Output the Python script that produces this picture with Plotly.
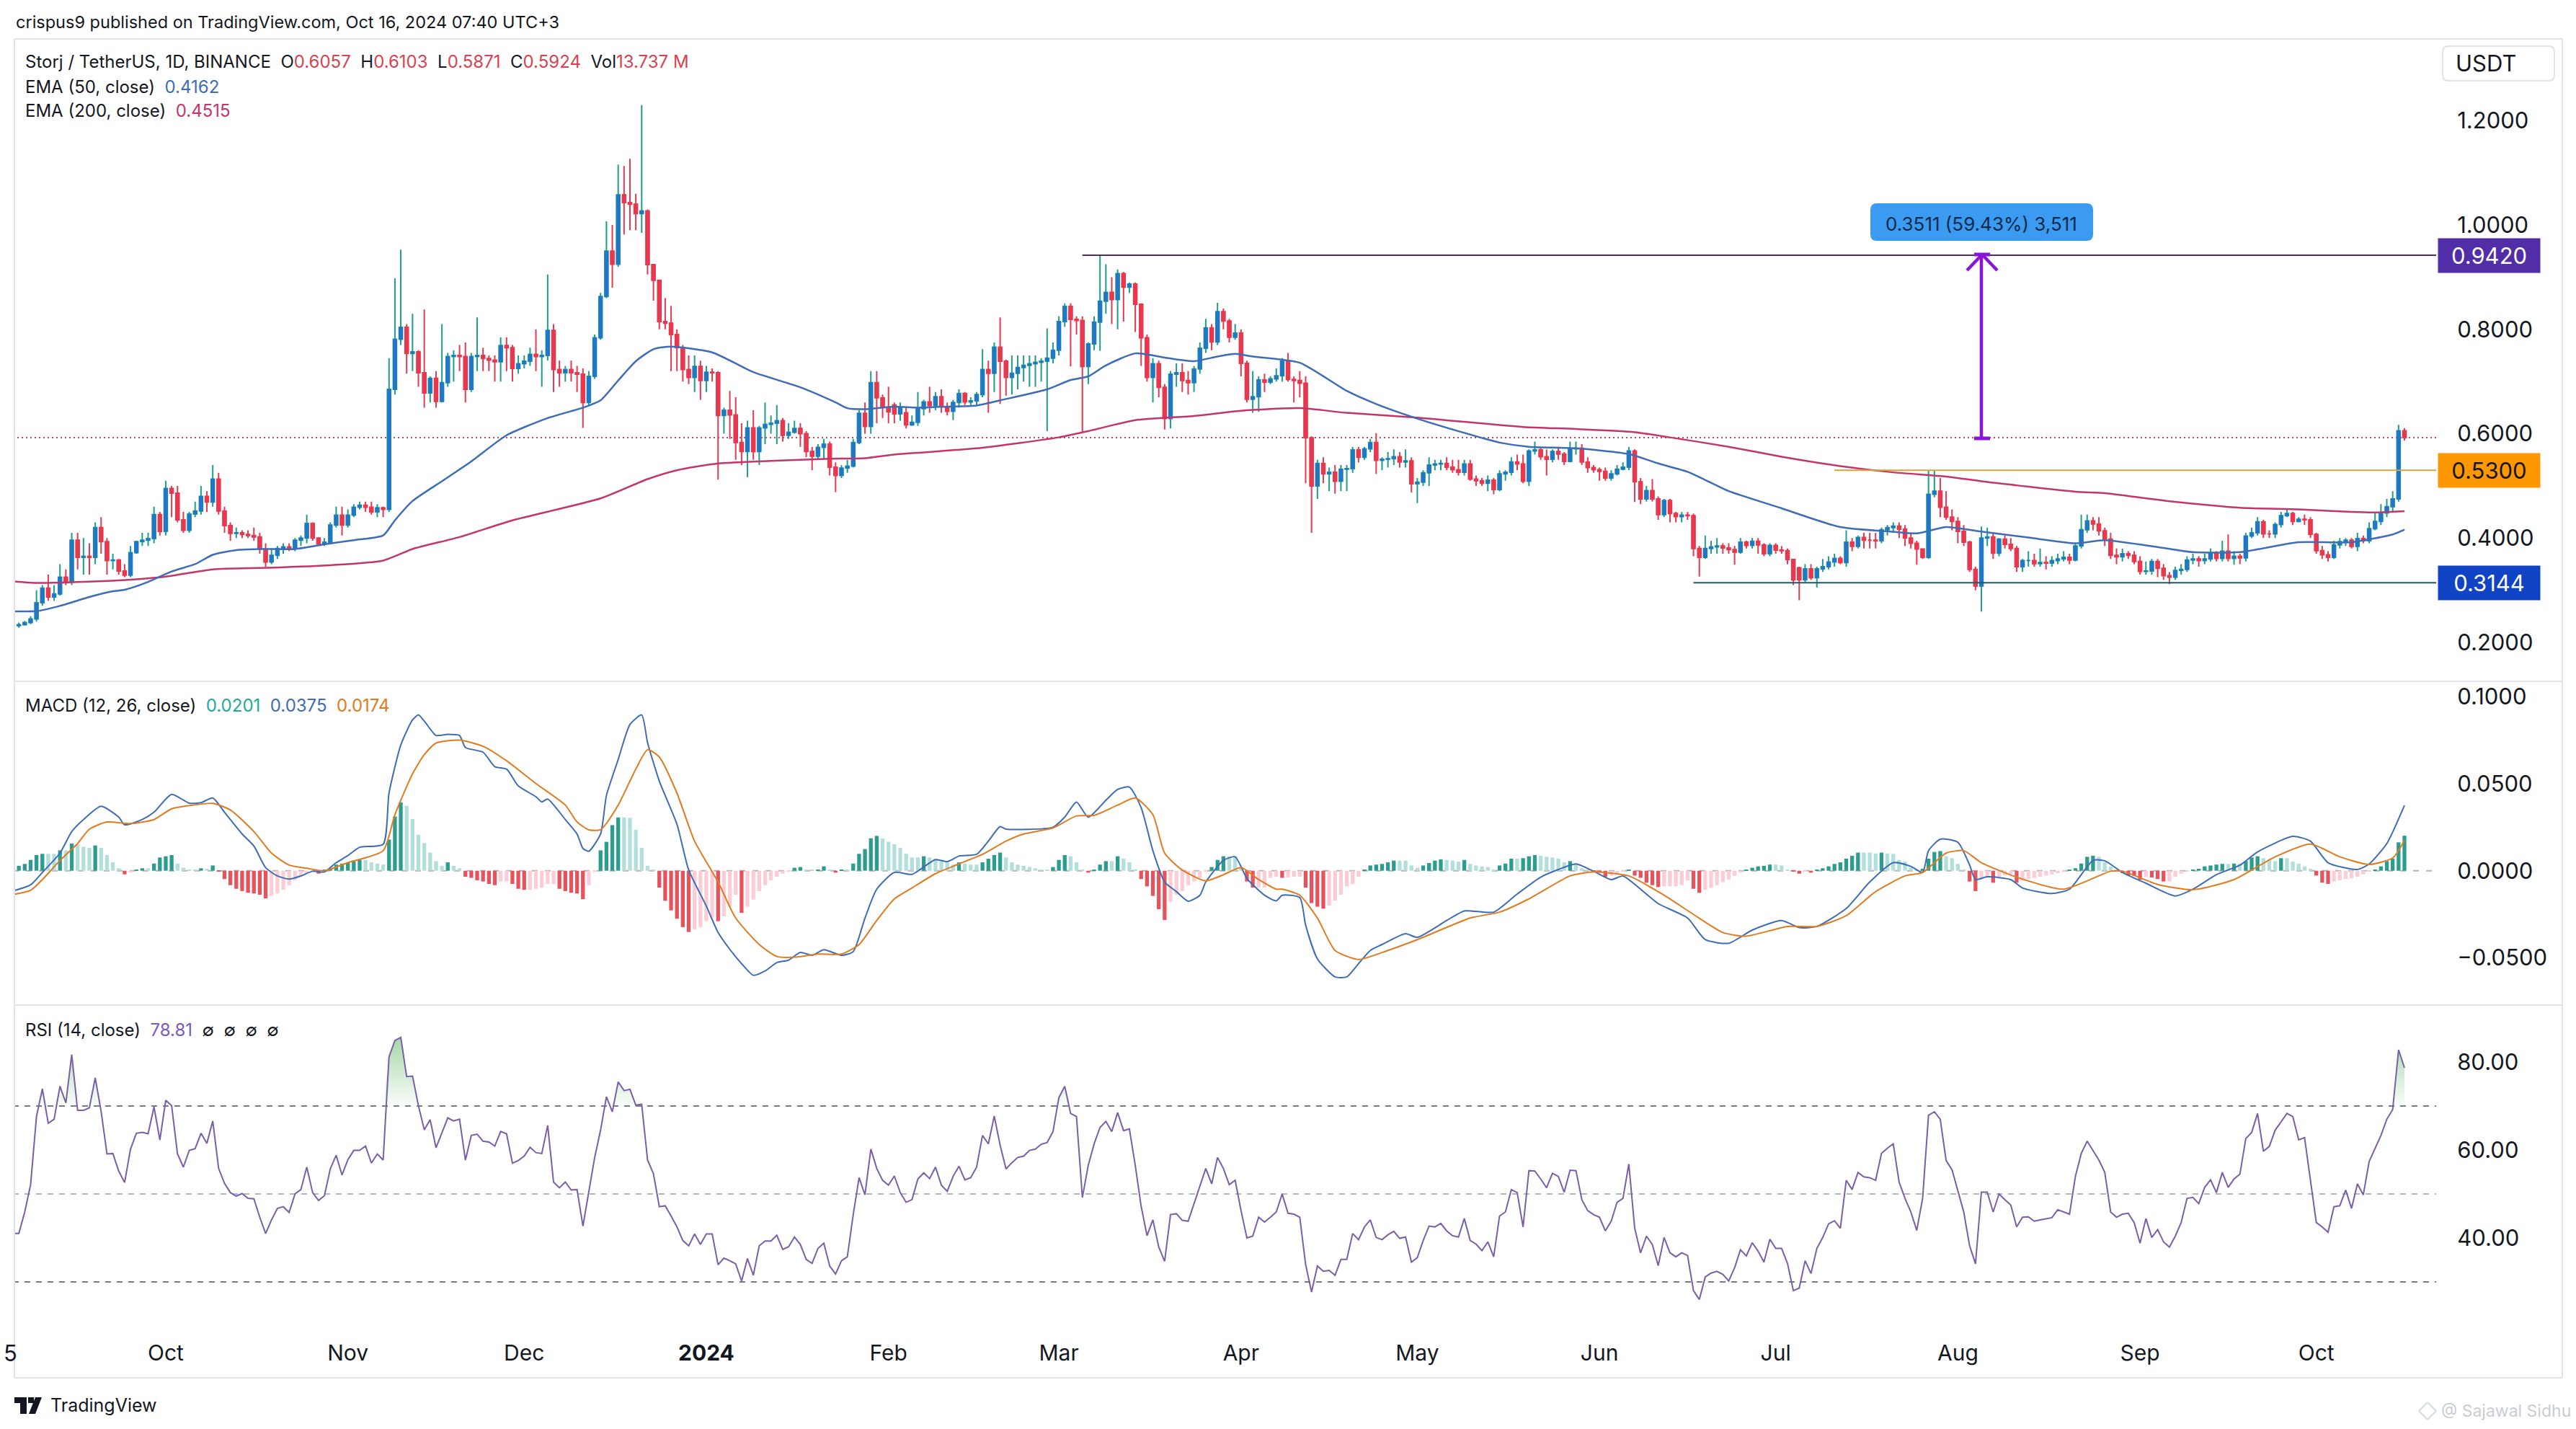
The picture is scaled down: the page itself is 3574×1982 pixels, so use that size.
"""Storj / TetherUS daily chart with EMA, MACD and RSI panes."""

import pandas as pd
import plotly.graph_objects as go

W, H = 3574, 1982
FONT = "Inter"

# candles, one per day from 5 Sep 2023 to 16 Oct 2024
opens = [
    .232,.232,.234,.238,.245,.276,.304,.287,.293,.325,
    .316,.396,.363,.365,.363,.420,.393,.357,.358,.337,
    .329,.372,.393,.396,.399,.445,.413,.495,.486,.435,
    .415,.446,.452,.480,.469,.513,.452,.424,.409,.410,
    .407,.405,.402,.379,.354,.367,.380,.383,.380,.396,
    .400,.428,.400,.389,.392,.425,.444,.425,.444,.459,
    .463,.459,.450,.458,.455,.685,.781,.804,.754,.757,
    .717,.678,.706,.662,.698,.748,.750,.748,.685,.748,
    .750,.744,.741,.738,.769,.765,.725,.734,.739,.752,
    .748,.750,.798,.723,.717,.723,.717,.714,.660,.710,
    .784,.863,.950,.925,1.058,1.043,1.040,1.022,1.027,.924,
    .894,.815,.812,.790,.765,.723,.708,.729,.702,.718,
    .717,.635,.645,.636,.583,.566,.611,.566,.611,.618,
    .620,.625,.597,.603,.610,.600,.566,.557,.574,.580,
    .536,.520,.534,.538,.583,.639,.614,.698,.669,.651,
    .655,.638,.640,.617,.622,.648,.661,.654,.671,.652,
    .643,.660,.677,.661,.663,.675,.723,.716,.766,.739,
    .708,.716,.727,.731,.734,.737,.739,.745,.760,.815,
    .844,.819,.817,.729,.772,.814,.854,.871,.857,.907,
    .881,.887,.848,.784,.708,.734,.689,.629,.714,.717,
    .702,.698,.724,.764,.803,.776,.834,.816,.785,.793,
    .735,.666,.671,.703,.699,.705,.711,.739,.704,.702,
    .697,.592,.500,.543,.523,.526,.509,.532,.533,.569,
    .555,.571,.583,.549,.551,.552,.556,.546,.548,.504,
    .507,.525,.540,.542,.543,.536,.531,.526,.542,.513,
    .510,.505,.511,.493,.523,.526,.546,.542,.509,.567,
    .569,.556,.551,.566,.561,.547,.571,.572,.546,.535,
    .531,.528,.515,.523,.532,.536,.567,.508,.475,.491,
    .475,.445,.472,.447,.441,.444,.443,.380,.363,.380,
    .383,.385,.381,.378,.373,.392,.386,.394,.387,.370,
    .386,.377,.376,.359,.343,.320,.341,.324,.341,.345,
    .354,.361,.353,.392,.384,.401,.396,.396,.395,.416,
    .420,.423,.417,.400,.390,.379,.363,.484,.490,.459,
    .440,.432,.413,.392,.340,.308,.400,.402,.371,.398,
    .388,.380,.345,.357,.357,.351,.353,.352,.357,.360,
    .363,.358,.385,.416,.433,.427,.414,.398,.367,.364,
    .370,.367,.355,.336,.337,.355,.342,.328,.325,.338,
    .340,.358,.360,.357,.360,.372,.361,.375,.361,.365,
    .362,.404,.410,.431,.408,.408,.426,.443,.447,.432,
    .436,.435,.407,.376,.368,.363,.387,.393,.396,.384,
    .399,.395,.418,.432,.448,.460,.475,.6057,
]
highs = [
    .236,.238,.241,.25,.30,.31,.33,.31,.35,.34,
    .41,.41,.40,.39,.43,.44,.40,.37,.36,.35,
    .385,.395,.41,.41,.46,.45,.51,.50,.50,.45,
    .45,.47,.50,.49,.54,.525,.46,.43,.42,.415,
    .415,.42,.41,.39,.38,.385,.39,.39,.40,.405,
    .445,.43,.40,.40,.43,.46,.46,.455,.465,.47,
    .47,.47,.465,.46,.745,.898,.953,.81,.83,.76,
    .838,.71,.72,.81,.755,.76,.77,.775,.755,.823,
    .765,.75,.75,.785,.785,.77,.75,.75,.765,.80,
    .76,.905,.81,.74,.73,.74,.73,.725,.72,.79,
    .87,1.007,1.0,1.116,1.113,1.127,1.06,1.23,1.03,.925,
    .895,.86,.845,.80,.77,.75,.75,.74,.73,.725,
    .72,.65,.682,.67,.62,.625,.645,.615,.66,.635,
    .655,.63,.62,.625,.62,.605,.575,.58,.59,.585,
    .545,.54,.55,.59,.645,.66,.72,.72,.675,.69,
    .66,.66,.65,.635,.68,.665,.69,.68,.685,.66,
    .665,.685,.68,.67,.68,.762,.74,.775,.823,.742,
    .75,.75,.75,.75,.75,.745,.802,.775,.825,.85,
    .85,.825,.825,.775,.825,.942,.925,.90,.915,.91,
    .89,.89,.85,.79,.745,.74,.695,.72,.735,.735,
    .72,.73,.775,.82,.81,.851,.84,.82,.81,.80,
    .74,.72,.71,.715,.71,.725,.745,.755,.71,.72,
    .71,.595,.55,.555,.535,.54,.54,.54,.575,.575,
    .575,.59,.601,.555,.565,.57,.565,.57,.555,.515,
    .53,.555,.55,.55,.555,.55,.55,.55,.55,.52,
    .515,.52,.515,.53,.53,.555,.56,.56,.57,.585,
    .575,.57,.57,.575,.565,.585,.585,.58,.555,.54,
    .535,.535,.53,.54,.545,.575,.57,.515,.50,.513,
    .48,.475,.475,.45,.45,.45,.447,.385,.405,.395,
    .40,.39,.39,.385,.40,.395,.40,.40,.39,.39,
    .39,.385,.38,.36,.345,.35,.35,.345,.36,.365,
    .37,.365,.415,.40,.405,.41,.41,.41,.42,.425,
    .43,.43,.425,.41,.395,.375,.53,.53,.515,.49,
    .455,.44,.425,.395,.345,.422,.42,.41,.40,.405,
    .40,.385,.36,.375,.37,.38,.365,.365,.37,.375,
    .37,.39,.445,.445,.44,.44,.42,.41,.38,.38,
    .375,.375,.365,.355,.36,.36,.35,.335,.345,.35,
    .365,.37,.365,.37,.38,.375,.395,.407,.375,.37,
    .41,.42,.44,.435,.415,.43,.45,.455,.45,.44,
    .445,.44,.41,.385,.375,.395,.40,.40,.40,.41,
    .405,.43,.45,.465,.475,.49,.617,.6103,
]
lows = [
    .226,.228,.232,.235,.24,.27,.28,.28,.29,.31,
    .31,.34,.33,.33,.35,.37,.33,.34,.33,.325,
    .325,.37,.385,.385,.39,.405,.405,.44,.43,.41,
    .41,.44,.445,.45,.46,.445,.41,.395,.40,.40,
    .40,.395,.37,.345,.35,.36,.37,.375,.375,.385,
    .39,.395,.385,.385,.39,.42,.405,.42,.44,.455,
    .45,.445,.44,.44,.45,.675,.77,.715,.72,.69,
    .65,.66,.65,.66,.69,.70,.72,.66,.68,.72,
    .72,.72,.70,.70,.72,.70,.715,.725,.73,.72,
    .69,.74,.68,.69,.70,.70,.68,.611,.655,.705,
    .78,.86,.88,.92,.982,.99,.99,.985,.905,.855,
    .80,.80,.72,.72,.70,.695,.68,.665,.68,.70,
    .512,.60,.59,.55,.54,.517,.55,.54,.58,.60,
    .58,.585,.59,.60,.575,.555,.53,.55,.55,.52,
    .488,.515,.525,.535,.58,.60,.60,.62,.63,.62,
    .62,.625,.61,.615,.615,.635,.64,.645,.64,.635,
    .626,.65,.655,.655,.655,.67,.64,.68,.657,.673,
    .675,.685,.70,.69,.69,.70,.605,.735,.75,.805,
    .729,.79,.603,.695,.76,.759,.83,.81,.80,.815,
    .87,.795,.73,.70,.66,.67,.608,.61,.69,.68,
    .675,.68,.715,.755,.76,.77,.80,.775,.78,.71,
    .66,.64,.642,.68,.695,.70,.70,.70,.66,.67,
    .505,.41,.475,.505,.49,.485,.49,.49,.525,.545,
    .55,.565,.523,.53,.535,.54,.535,.535,.487,.467,
    .50,.50,.53,.53,.53,.525,.52,.52,.51,.50,
    .50,.49,.484,.49,.51,.52,.53,.505,.50,.56,
    .55,.52,.545,.55,.54,.545,.56,.54,.525,.525,
    .51,.51,.51,.52,.53,.53,.469,.465,.47,.47,
    .435,.44,.43,.43,.43,.435,.365,.326,.36,.37,
    .37,.37,.37,.349,.37,.38,.38,.37,.365,.365,
    .37,.37,.35,.31,.281,.315,.32,.305,.335,.34,
    .345,.35,.345,.375,.38,.38,.38,.38,.39,.405,
    .41,.40,.385,.38,.349,.36,.36,.478,.44,.435,
    .415,.39,.385,.335,.30,.259,.385,.36,.365,.38,
    .375,.335,.335,.345,.345,.345,.34,.345,.35,.355,
    .35,.355,.38,.41,.415,.405,.385,.36,.35,.355,
    .36,.35,.33,.33,.33,.325,.32,.3115,.32,.33,
    .335,.35,.345,.35,.355,.355,.355,.355,.349,.35,
    .355,.40,.405,.40,.40,.40,.42,.44,.425,.43,
    .425,.40,.37,.36,.355,.36,.38,.385,.38,.375,
    .39,.39,.415,.425,.44,.45,.47,.5871,
]
closes = [
    .232,.234,.238,.245,.276,.304,.287,.293,.325,.316,
    .396,.363,.365,.363,.420,.393,.357,.358,.337,.329,
    .372,.393,.396,.399,.445,.413,.495,.486,.435,.415,
    .446,.452,.480,.469,.513,.452,.424,.409,.410,.407,
    .405,.402,.379,.354,.367,.380,.383,.380,.396,.400,
    .428,.400,.389,.392,.425,.444,.425,.444,.459,.463,
    .459,.450,.458,.455,.685,.781,.804,.754,.757,.717,
    .678,.706,.662,.698,.748,.750,.748,.685,.748,.750,
    .744,.741,.738,.769,.765,.725,.734,.739,.752,.748,
    .750,.798,.723,.717,.723,.717,.714,.660,.710,.784,
    .863,.950,.925,1.058,1.043,1.040,1.022,1.027,.924,.894,
    .815,.812,.790,.765,.723,.708,.729,.702,.718,.717,
    .635,.645,.636,.583,.566,.611,.566,.611,.618,.620,
    .625,.597,.603,.610,.600,.566,.557,.574,.580,.536,
    .520,.534,.538,.583,.639,.614,.698,.669,.651,.642,
    .638,.650,.617,.622,.648,.661,.654,.671,.652,.643,
    .660,.677,.661,.663,.675,.723,.716,.766,.739,.708,
    .716,.727,.731,.734,.737,.739,.745,.760,.815,.844,
    .819,.817,.729,.772,.814,.854,.871,.857,.907,.881,
    .887,.848,.784,.708,.734,.689,.629,.714,.717,.702,
    .698,.724,.764,.803,.776,.834,.816,.785,.793,.735,
    .666,.671,.703,.699,.705,.711,.739,.704,.702,.697,
    .592,.500,.543,.523,.526,.509,.532,.533,.569,.555,
    .571,.583,.549,.551,.552,.556,.546,.548,.504,.507,
    .525,.540,.542,.543,.536,.531,.526,.542,.513,.510,
    .505,.511,.493,.523,.526,.546,.542,.509,.567,.569,
    .556,.551,.566,.561,.547,.571,.572,.546,.535,.531,
    .528,.515,.523,.532,.536,.567,.508,.475,.491,.475,
    .445,.472,.447,.441,.444,.443,.380,.363,.380,.383,
    .385,.381,.378,.373,.392,.386,.394,.387,.370,.386,
    .377,.376,.359,.320,.320,.341,.324,.341,.345,.354,
    .361,.353,.392,.384,.401,.396,.396,.395,.416,.420,
    .423,.417,.400,.390,.379,.363,.484,.490,.459,.440,
    .432,.413,.392,.340,.308,.400,.402,.371,.398,.388,
    .380,.345,.357,.357,.351,.353,.352,.357,.360,.363,
    .358,.385,.416,.433,.427,.414,.398,.367,.364,.370,
    .367,.355,.336,.337,.355,.342,.328,.325,.338,.340,
    .358,.360,.357,.360,.372,.361,.375,.361,.365,.362,
    .404,.410,.431,.408,.408,.426,.443,.447,.432,.436,
    .435,.407,.376,.368,.363,.387,.393,.396,.384,.399,
    .395,.418,.432,.448,.460,.475,.6057,.5924,
]

# moving averages, read at the bends (day number, value)
ema50_days = [0,4,8,13,17,19,23,27,31,34,38,42,48,53,58,63,65,68,73,78,84,91,97,100,103,106,109,112,119,126,134,140,142,145,
              150,154,159,164,168,176,180,183,186,191,196,201,205,208,211,219,227,232,239,250,253,258,266,275,280,285,289,292,
              301,311,320,324,329,334,343,351,356,366,371,379,389,398,405,407]
ema50 = [.2595,.260,.270,.287,.298,.301,.316,.336,.350,.368,.377,.379,.379,.388,.396,.405,.434,.471,.509,.547,.597,.630,.650,.664,.702,.739,.762,.767,.756,.718,.689,.660,.649,.647,
         .652,.650,.652,.654,.664,.685,.703,.710,.731,.754,.746,.739,.748,.753,.748,.736,.682,.657,.629,.592,.583,.575,.572,.561,.543,.527,.506,.490,
         .457,.421,.412,.409,.421,.414,.401,.390,.396,.381,.373,.373,.392,.392,.407,.4162]
ema200_days = [0,4,12,21,26,34,43,54,63,68,76,85,100,108,113,120,129,139,145,
               150,164,178,183,191,201,209,219,227,239,257,266,276,282,292,
               301,311,320,329,335,351,356,366,379,389,398,402,407]
ema200 = [.317,.314,.316,.321,.326,.340,.343,.348,.357,.379,.402,.434,.476,.513,.530,.543,.548,.552,.553,
          .560,.572,.593,.605,.626,.634,.644,.649,.640,.631,.613,.609,.603,.593,.575,
          .556,.538,.526,.518,.509,.489,.486,.472,.458,.455,.450,.449,.4515]

# MACD pane, values in units of 0.0001
macd_days = [0,3,5,8,10,12,15,18,19,22,24,27,30,32,34,36,39,41,43,45,47,49,51,53,55,57,59,63,64,66,68,69,70,72,74,76,77,80,82,84,86,89,90,91,94,96,97,98,
             100,101,103,105,107,108,110,113,115,118,120,122,124,126,128,130,132,134,136,138,141,143,145,147,150,153,157,159,161,164,166,168,169,177,179,181,183,186,188,190,192,194,196,198,200,202,203,206,208,210,213,215,
             216,219,220,222,225,227,229,231,233,237,239,244,247,252,256,260,263,266,269,272,274,277,280,285,288,292,296,301,304,307,312,316,320,323,325,326,328,331,333,334,336,340,342,347,350,354,356,359,363,368,371,375,379,382,388,391,394,399,401,404,407]
macd_line = [-117,-81,-10,101,225,294,370,308,264,294,336,439,388,391,418,336,211,142,18,-30,-48,-30,-3,-7,46,87,135,152,446,722,867,895,860,777,784,777,708,681,598,584,487,425,395,412,294,211,128,112,
             211,432,639,840,895,736,515,267,4,-203,-355,-452,-534,-601,-576,-528,-514,-470,-486,-454,-486,-465,-272,-106,-10,-21,64,52,84,94,170,253,239,250,308,394,308,405,467,481,363,115,-65,-120,-175,-141,-65,59,80,-44,-141,-173,
             -141,-155,-313,-507,-610,-610,-534,-458,-424,-362,-383,-286,-231,-238,-134,-37,7,39,-3,-51,-30,-106,-189,-272,-396,-417,-341,-286,-327,-320,-217,-65,46,25,-10,115,181,163,32,-51,-35,-51,-99,-131,-106,59,57,-10,-72,-145,-106,-23,32,108,197,170,46,7,39,156,375]
signal_days = [0,3,5,8,11,13,16,20,24,27,30,34,37,41,44,47,50,53,57,63,65,68,70,72,76,80,84,89,94,96,98,100,103,106,108,110,113,116,120,123,127,130,133,137,141,144,147,150,153,157,161,165,169,172,177,181,184,188,191,194,196,199,203,206,209,212,215,
               216,219,222,225,229,234,239,248,253,258,265,269,275,281,286,291,295,302,307,312,317,322,325,329,332,335,341,349,357,359,365,371,378,385,391,396,401,405,407]
signal_line = [-137,-113,-51,59,156,239,280,271,294,356,374,387,349,225,101,32,14,0,46,115,322,557,667,733,750,715,632,501,377,280,235,236,377,584,695,653,446,170,-65,-272,-424,-493,-497,-479,-479,-424,-286,-162,-99,-17,39,94,170,211,246,315,318,377,418,322,101,4,-58,-23,18,-51,-106,
               -106,-141,-272,-458,-510,-458,-396,-272,-238,-162,-30,-7,-30,-141,-251,-355,-376,-320,-320,-258,-120,-30,-10,101,115,46,-37,-106,-3,-3,-79,-109,-51,80,153,80,36,73,174]
macd_hist = [
    21,28,39,62,90,97,97,97,117,117,
    156,152,138,131,145,131,90,48,14,-21,
    -11,4,14,14,41,76,83,90,41,17,
    7,7,14,11,30,-3,-48,-83,-104,-117,
    -127,-131,-138,-159,-145,-131,-110,-83,-55,-35,
    -14,-7,-17,7,14,35,41,48,58,62,
    62,48,41,35,179,311,393,373,297,207,
    159,104,55,28,48,28,14,-35,-41,-55,
    -62,-76,-83,-62,-62,-76,-104,-110,-110,-104,
    -97,-76,-76,-104,-117,-127,-131,-163,-83,-7,
    117,166,262,306,306,304,235,131,28,4,
    -97,-173,-228,-276,-324,-352,-338,-324,-290,-269,
    -290,-262,-207,-138,-242,-207,-166,-117,-83,-55,
    -35,-17,-7,17,21,4,4,7,25,4,
    -11,4,4,41,97,124,186,200,186,166,
    152,131,97,76,76,83,76,69,62,48,
    35,48,41,35,35,48,69,90,104,76,
    48,35,28,21,14,7,7,21,62,90,
    83,48,4,-11,7,35,55,55,83,69,
    48,7,-48,-90,-145,-221,-283,-179,-138,-117,
    -83,-62,-41,-7,21,62,83,83,83,21,
    -62,-97,-97,-97,-41,-35,
    -41,-39,-35,-35,-97,-186,-207,-218,-200,-173,-138,-90,-76,-35,
    4,30,35,39,48,58,58,58,30,17,
    30,44,58,65,62,58,52,62,39,30,
    25,21,7,30,41,69,69,72,83,90,
    86,80,76,69,48,55,41,14,4,-4,
    -11,-35,-28,-21,-4,7,-28,-41,-69,-83,
    -94,-90,-90,-90,-83,-55,-104,-127,-110,-99,
    -83,-66,-52,-30,-11,4,17,25,28,35,
    35,30,7,-4,-17,-3,-11,4,14,25,
    39,48,69,86,104,104,104,99,104,99,
    97,62,52,21,4,11,69,108,113,83,
    72,39,7,-62,-117,-48,-35,-69,-41,-28,
    -21,-69,-58,-48,-41,-35,-28,-21,-14,-7,
    4,14,41,80,86,80,48,25,4,-14,
    -28,-30,-52,-35,-39,-48,-62,-62,-35,-17,
    -4,4,11,25,30,35,39,39,41,41,
    55,76,83,72,66,55,72,72,52,41,
    25,11,-28,-69,-76,-62,-55,-48,-44,-35,
    -21,-4,4,25,55,69,163,201,
]

rsi = [
    41.0,41.0,45.9,52.1,67.6,73.9,66.1,67.0,74.5,70.7,
    81.7,69.0,69.0,69.6,76.4,68.8,59.1,59.2,55.2,52.6,
    60.2,63.8,64.0,63.7,69.8,62.3,71.3,70.1,59.1,56.1,
    59.9,60.3,63.8,61.5,66.6,55.8,52.4,50.3,49.5,50.1,
    49.0,48.9,44.7,41.0,44.1,46.7,47.1,45.8,50.0,51.0,
    56.1,50.3,48.5,49.6,55.7,58.8,54.3,57.8,59.9,59.9,
    60.9,57.0,59.1,57.7,81.2,84.9,85.6,76.7,76.8,70.1,
    64.6,66.9,60.5,63.9,67.3,66.6,67.0,57.7,63.3,63.6,
    62.0,61.8,60.9,64.2,63.7,57.0,57.6,58.6,60.6,59.4,
    59.2,65.6,52.7,51.4,52.7,50.9,51.0,42.7,50.3,58.3,
    64.5,72.1,68.7,75.5,73.5,73.8,70.2,70.4,57.7,54.6,
    47.1,47.3,45.0,42.5,39.4,38.2,40.9,38.5,40.9,40.9,
    33.9,35.4,34.8,34.1,30.2,35.3,31.5,38.2,39.3,39.3,
    40.6,37.4,38.0,40.2,38.5,35.1,34.2,37.6,38.8,33.6,
    31.8,34.8,35.7,45.3,53.7,49.8,60.2,55.8,53.1,52.0,
    54.1,50.3,48.1,48.7,53.4,54.8,53.5,56.1,52.0,50.6,
    54.0,56.3,53.2,53.7,56.1,63.3,61.4,67.7,61.1,55.7,
    57.1,58.3,58.6,59.9,60.2,61.3,61.7,64.2,71.9,74.5,
    68.3,67.6,49.2,56.5,61.4,65.1,66.5,64.2,68.5,64.4,
    64.8,56.5,47.2,40.5,44.1,37.9,34.7,45.3,45.5,44.0,
    43.8,47.8,51.8,55.8,52.3,58.3,55.8,52.1,53.1,46.2,
    40.0,40.4,44.7,43.6,44.7,45.9,
    50.0,45.6,45.4,44.7,33.9,27.7,33.6,32.4,32.6,31.5,
    35.1,35.1,41.0,39.6,42.5,44.1,40.1,39.6,40.7,41.5,
    39.9,40.2,34.5,35.5,39.4,42.7,42.5,43.3,41.6,40.5,
    40.2,44.4,39.4,38.6,37.1,39.1,35.7,45.0,45.9,51.0,
    50.3,42.5,55.3,55.2,53.4,51.4,54.7,54.0,50.4,55.4,
    55.3,48.7,46.2,45.3,44.7,41.6,43.8,48.1,49.0,56.8,
    42.2,36.6,40.4,38.5,33.7,40.1,36.6,35.7,36.6,36.0,
    28.0,26.0,31.1,32.0,32.4,31.7,30.2,33.2,37.3,35.9,
    38.9,37.0,34.5,39.7,37.6,37.6,34.2,28.0,28.6,34.8,
    31.9,37.6,40.1,43.2,43.9,42.2,53.1,51.0,54.9,53.9,
    53.7,53.1,59.2,60.4,61.4,52.7,49.0,45.9,41.7,49.0,
    67.9,68.7,67.0,57.6,55.5,50.9,45.9,38.2,34.1,50.4,
    50.4,45.9,50.0,48.7,47.5,42.5,44.7,44.8,43.8,44.1,
    44.3,44.6,46.4,45.9,45.4,54.0,59.2,62.0,59.9,57.7,
    54.9,45.9,44.7,45.4,45.6,43.5,38.8,44.4,40.1,41.9,
    39.1,37.9,40.4,43.5,49.0,49.2,47.8,51.5,53.2,50.3,
    54.9,51.5,53.4,54.5,62.6,64.0,68.3,59.7,60.8,64.5,
    66.4,68.3,67.6,62.3,62.8,52.7,43.5,42.5,41.3,47.1,
    47.3,50.9,46.7,52.3,49.8,57.4,60.5,63.3,67.0,69.2,
    82.8,78.7,
]

# axis labels
price_ticks = [0.2, 0.4, 0.6, 0.8, 1.0, 1.2]
macd_ticks = [-0.05, 0, 0.05, 0.1]
rsi_ticks = [40, 60, 80]
month_ticks = ["2023-10-01", "2023-11-01", "2023-12-01", "2024-01-01", "2024-02-01", "2024-03-01",
               "2024-04-01", "2024-05-01", "2024-06-01", "2024-07-01", "2024-08-01", "2024-09-01", "2024-10-01"]
month_labels = ["Oct", "Nov", "Dec", "<b>2024</b>", "Feb", "Mar", "Apr", "May", "Jun", "Jul", "Aug", "Sep", "Oct"]

# drawn levels: value, first day, box colour, text colour, line colour
levels = [
    (0.9420, 182, "#512da8", "white", "#4a2f6e"),
    (0.5300, 310, "#ff9800", "#131722", "#dca23c"),
    (0.3144, 286, "#1144c4", "white", "#1f5a66"),
]
last_close = 0.5924
measure_day = 335

assert len(opens) == len(highs) == len(lows) == len(closes) == len(macd_hist) == len(rsi) == 408

dates = pd.date_range("2023-09-05", periods=len(closes))
start = dates[0]


def day(n):
    return start + pd.Timedelta(days=n)


def px(x, y):
    return x / W, 1 - y / H


def dom(top, bottom):
    return [1 - bottom / H, 1 - top / H]


def note(x, y, text, size=24, color="#131722", anchor="left", **kw):
    xp, yp = px(x, y)
    return dict(x=xp, y=yp, xref="paper", yref="paper", text=text, showarrow=False, xanchor=anchor,
                yanchor="middle", font=dict(family=FONT, size=size, color=color), **kw)


def pixel_line(x0, y0, x1, y1, color, width):
    a, b = px(x0, y0)
    c, d = px(x1, y1)
    return dict(type="line", xref="paper", yref="paper", x0=a, y0=b, x1=c, y1=d,
                line=dict(color=color, width=width))


def pixel_path(points, color):
    d = "M " + " L ".join("%.5f,%.5f" % px(x, y) for x, y in points) + " Z"
    return dict(type="path", xref="paper", yref="paper", path=d, fillcolor=color, line=dict(width=0))


def rounded_box(x0, y0, x1, y1, r, fill, edge):
    p = lambda x, y: "%.5f,%.5f" % px(x, y)
    d = ("M " + p(x0 + r, y0) + " L " + p(x1 - r, y0) + " Q " + p(x1, y0) + " " + p(x1, y0 + r)
         + " L " + p(x1, y1 - r) + " Q " + p(x1, y1) + " " + p(x1 - r, y1)
         + " L " + p(x0 + r, y1) + " Q " + p(x0, y1) + " " + p(x0, y1 - r)
         + " L " + p(x0, y0 + r) + " Q " + p(x0, y0) + " " + p(x0 + r, y0) + " Z")
    return dict(type="path", xref="paper", yref="paper", path=d, fillcolor=fill, line=dict(color=edge, width=2))


fig = go.Figure()

# wicks first, then the bodies drawn over them in their own colour
fig.add_trace(go.Candlestick(
    x=dates, open=opens, high=highs, low=lows, close=closes, yaxis="y", hoverinfo="skip",
    whiskerwidth=0,
    increasing=dict(line=dict(color="#1f9d8c", width=2), fillcolor="#1f9d8c"),
    decreasing=dict(line=dict(color="#e23a50", width=2), fillcolor="#e23a50"),
))
fig.add_trace(go.Candlestick(
    x=dates, open=opens, close=closes, yaxis="y", hoverinfo="skip",
    high=[max(o, c) for o, c in zip(opens, closes)],
    low=[min(o, c) for o, c in zip(opens, closes)],
    increasing=dict(line=dict(color="#2176c8", width=1), fillcolor="#2176c8"),
    decreasing=dict(line=dict(color="#e8384f", width=1), fillcolor="#e8384f"),
))
smooth = dict(shape="spline", smoothing=0.6)
fig.add_trace(go.Scatter(x=[day(n) for n in ema200_days], y=ema200, yaxis="y", mode="lines",
                         line=dict(color="#c2366c", width=2.5, **smooth), hoverinfo="skip"))
fig.add_trace(go.Scatter(x=[day(n) for n in ema50_days], y=ema50, yaxis="y", mode="lines",
                         line=dict(color="#3e6cb5", width=2.5, **smooth), hoverinfo="skip"))

hist_values = [v / 10000 for v in macd_hist]
hist_colors = []
for n, v in enumerate(hist_values):
    prev = hist_values[n - 1] if n else 0
    if v >= 0:
        hist_colors.append("#2a9d8f" if v > prev else "#b2dfdb")
    else:
        hist_colors.append("#e5535d" if v < prev else "#fbcdd4")
fig.add_trace(go.Bar(x=dates, y=hist_values, yaxis="y2", marker=dict(color=hist_colors, line=dict(width=0)),
                     hoverinfo="skip"))
fig.add_trace(go.Scatter(x=[day(n) for n in macd_days], y=[v / 10000 for v in macd_line], yaxis="y2", mode="lines",
                         line=dict(color="#3e6cb5", width=2, **smooth), hoverinfo="skip"))
fig.add_trace(go.Scatter(x=[day(n) for n in signal_days], y=[v / 10000 for v in signal_line], yaxis="y2", mode="lines",
                         line=dict(color="#e07b20", width=2, **smooth), hoverinfo="skip"))

# overbought shading between 70 and the RSI line
fig.add_trace(go.Scatter(x=dates, y=[70] * len(rsi), yaxis="y3", mode="lines", line=dict(width=0),
                         hoverinfo="skip"))
fig.add_trace(go.Scatter(x=dates, y=[max(v, 70) for v in rsi], yaxis="y3", mode="lines", line=dict(width=0),
                         fill="tonexty", hoverinfo="skip",
                         fillgradient=dict(type="vertical",
                                           colorscale=[[0, "rgba(76,175,80,0.03)"], [1, "rgba(76,175,80,0.5)"]])))
fig.add_trace(go.Scatter(x=dates, y=rsi, yaxis="y3", mode="lines", line=dict(color="#7a5fa8", width=2),
                         hoverinfo="skip"))

x_end = day(412.4)
shapes = []
# panel frame and separators
for a in [(20, 54, 3555, 54), (20, 1911, 3555, 1911), (20, 54, 20, 1911), (3555, 54, 3555, 1911),
          (20, 945, 3555, 945), (20, 1394, 3555, 1394)]:
    shapes.append(pixel_line(*a, "#e0e3eb", 2))
shapes.append(dict(type="line", xref="x", yref="y", x0=day(0), x1=x_end, y0=last_close, y1=last_close, layer="below",
                   line=dict(color="#c9475f", width=2, dash="2px,4px")))
for value, first, _, _, line_color in levels:
    shapes.append(dict(type="line", xref="x", yref="y", x0=day(first), x1=x_end, y0=value, y1=value,
                       line=dict(color=line_color, width=2)))
# measuring arrow
shapes.append(dict(type="line", xref="x", yref="y", x0=day(measure_day), x1=day(measure_day), y0=last_close, y1=0.942,
                   line=dict(color="#8a14d9", width=4.5)))
shapes.append(pixel_line(2729, 375, 2750, 353, "#8a14d9", 4.5))
shapes.append(pixel_line(2771, 375, 2750, 353, "#8a14d9", 4.5))
shapes.append(pixel_line(2739, 353, 2761, 353, "#8a14d9", 5))
shapes.append(pixel_line(2739, 608, 2761, 608, "#8a14d9", 5))
# measure label box and currency box
shapes.append(rounded_box(2596, 283, 2903, 333, 8, "#3a9bf0", "#3a9bf0"))
shapes.append(rounded_box(3389, 64, 3544, 112, 8, "white", "#e0e3eb"))
# TradingView logo
shapes.append(pixel_path([(20, 1938), (37, 1938), (37, 1961), (28, 1961), (28, 1946), (20, 1946)], "#131722"))
shapes.append(pixel_path([(49, 1938), (58, 1938), (49, 1961), (40, 1961)], "#131722"))
shapes.append(pixel_path([(39, 1938), (47, 1938), (47, 1946), (39, 1946)], "#131722"))
# watermark mark
for a in [(3356, 1957, 3368, 1945), (3368, 1945, 3380, 1957), (3380, 1957, 3368, 1969), (3368, 1969, 3356, 1957)]:
    shapes.append(pixel_line(*a, "#d5d8dd", 2))

annotations = [
    note(20, 31, "crispus9 published on TradingView.com, Oct 16, 2024 07:40 UTC+3", size=23.5),
    note(33, 85, 'Storj / TetherUS, 1D, BINANCE  '
                 'O<span style="color:#d9424f">0.6057</span>  H<span style="color:#d9424f">0.6103</span>  '
                 'L<span style="color:#d9424f">0.5871</span>  C<span style="color:#d9424f">0.5924</span>  '
                 'Vol<span style="color:#d9424f">13.737 M</span>', size=24),
    note(33, 120, 'EMA (50, close)  <span style="color:#3e6cb5">0.4162</span>', size=24),
    note(33, 154, 'EMA (200, close)  <span style="color:#c2366c">0.4515</span>', size=24),
    note(33, 978, 'MACD (12, 26, close)  <span style="color:#22ab94">0.0201</span>  '
                  '<span style="color:#3e6cb5">0.0375</span>  <span style="color:#e07b20">0.0174</span>', size=24),
    note(33, 1428, 'RSI (14, close)  <span style="color:#7e57c2">78.81</span>  ∅  ∅  ∅  ∅', size=24),
    note(2749, 310, "0.3511 (59.43%) 3,511", size=26, color="#0d2a4a", anchor="center"),
    note(3449, 88, "USDT", size=31, anchor="center"),
    note(68, 1949, "TradingView", size=25),
    note(3385, 1957, "@ Sajawal Sidhu", size=23, color="#c9cdd3"),
    note(26, 1876, "5", size=31, anchor="right"),
]
for value, _, box_color, text_color, _ in levels:
    annotations.append(dict(x=3453.5 / W, xref="paper", y=value, yref="y", text="%.4f" % value, showarrow=False,
                            xanchor="center", yanchor="middle", width=139, height=45, bgcolor=box_color,
                            font=dict(family=FONT, size=31, color=text_color)))

axis_font = dict(family=FONT, size=31, color="#131722")
y_common = dict(side="right", anchor="x", showgrid=False, zeroline=False, showline=False, fixedrange=True,
                ticks="outside", ticklen=22, tickcolor="rgba(0,0,0,0)", tickfont=axis_font)

fig.update_layout(
    width=W, height=H, margin=dict(l=0, r=0, t=0, b=0), paper_bgcolor="white", plot_bgcolor="white",
    showlegend=False, bargap=0.35, boxgap=0.2, shapes=shapes, annotations=annotations,
    font=dict(family=FONT),
    xaxis=dict(type="date", domain=[20 / W, 3380 / W], range=[day(0.245), x_end], anchor="y3",
               rangeslider=dict(visible=False), showgrid=False, zeroline=False, showline=False,
               tickmode="array", tickvals=month_ticks, ticktext=month_labels, tickfont=dict(family=FONT, size=30, color="#131722"),
               ticks="outside", ticklen=5, tickcolor="rgba(0,0,0,0)"),
    yaxis=dict(domain=dom(54, 945), range=[0.1254, 1.3567], tickmode="array", tickvals=price_ticks,
               ticktext=["%.4f" % v for v in price_ticks], **y_common),
    yaxis2=dict(domain=dom(946, 1394), range=[-0.0772, 0.1084], tickmode="array", tickvals=macd_ticks,
                ticktext=["−0.0500", "0.0000", "0.0500", "0.1000"], **y_common),
    yaxis3=dict(domain=dom(1395, 1845), range=[19.0, 92.8], tickmode="array", tickvals=rsi_ticks,
                ticktext=["%.2f" % v for v in rsi_ticks], **y_common),
)

# zero line on MACD and the three RSI bands
fig.add_shape(type="line", xref="x", yref="y2", x0=day(0), x1=x_end, y0=0, y1=0, layer="below",
              line=dict(color="#b2b5be", width=2, dash="8px,10px"))
for level, color in ((70, "#787b86"), (50, "#b2b5be"), (30, "#787b86")):
    fig.add_shape(type="line", xref="x", yref="y3", x0=day(0), x1=x_end, y0=level, y1=level, layer="below",
                  line=dict(color=color, width=2, dash="8px,8px"))

fig.write_html("out.html", config=dict(displayModeBar=False), post_script="document.body.style.margin='0';")
